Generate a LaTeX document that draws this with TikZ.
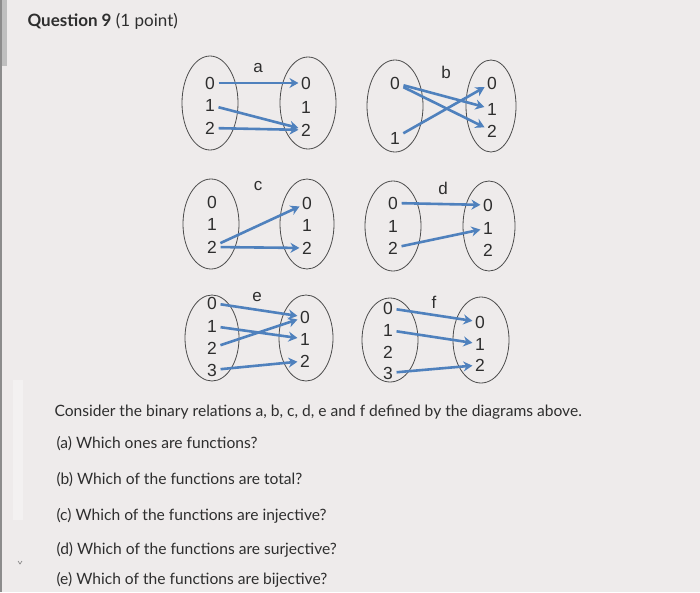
\documentclass[tikz,border=0pt]{standalone}
\usepackage{fontspec}
\setmainfont{Lato}
\newfontfamily\diagfont{Liberation Sans}
\usetikzlibrary{arrows.meta}
\definecolor{arrowblue}{HTML}{4F81BD}
\definecolor{paper}{HTML}{EEEBEB}
\definecolor{ink}{HTML}{2E2E2E}
\tikzset{
  digit/.style={font=\diagfont\fontsize{17.5}{17.5}\selectfont, text=ink, inner sep=1.5pt},
  setline/.style={draw=black!70, line width=0.8pt},
  maps/.style={draw=arrowblue, line width=2.6pt, -{Stealth[length=9pt,width=10pt]}, shorten >=1pt, shorten <=2pt},
  relname/.style={font=\diagfont\fontsize{17}{17}\selectfont, text=ink},
  body/.style={anchor=west, font=\fontsize{15.6}{18}\selectfont, text=ink}
}
\begin{document}
\begin{tikzpicture}[x=1pt,y=-1pt]
\fill[paper] (0,0) rectangle (700,592);
\clip (0,0) rectangle (700,592);
% left edge of the screen
\fill[black!45] (0,0) rectangle (2,592);
\fill[black!25] (2,0) rectangle (7,66);
\fill[white!30!paper] (13,380) rectangle (23,520);
\draw[black!50, line width=0.6pt] (18,561) -- (20,564) -- (22,561);

\node[anchor=west, font=\fontsize{17}{20}\selectfont, text=ink] (title) at (24,21) {\textbf{Question 9} (1 point)};

% a
\draw[setline] (210,103) ellipse (28 and 47);
\draw[setline] (308,103) ellipse (28 and 46);
\foreach \y [count=\i from 0] in {83,105,128} \node[digit] (aL\i) at (210,\y) {\i};
\foreach \y [count=\i from 0] in {83,107,130} \node[digit] (aR\i) at (306,\y) {\i};
\node[relname] (a) at (258,68) {a};
\draw[maps] (aL0) -- (aR0);
\draw[maps] (aL1) -- (aR2);
\draw[maps] (aL2) -- (aR2);

% b
\draw[setline] (395,106) ellipse (28 and 46);
\draw[setline] (491,106) ellipse (25 and 46);
\node[digit] (bL0) at (395,83) {0};
\node[digit] (bL1) at (395,138) {1};
\foreach \y [count=\i from 0] in {83,109,131} \node[digit] (bR\i) at (492,\y) {\i};
\node[relname] (b) at (446,72) {b};
\draw[maps] (bL0) -- (bR1);
\draw[maps] (bL0) -- (bR2);
\draw[maps] (bL1) -- (bR0);

% c
\draw[setline] (211,224) ellipse (28 and 45);
\draw[setline] (307,224) ellipse (27 and 45);
\foreach \y [count=\i from 0] in {202,224,247} \node[digit] (cL\i) at (212,\y) {\i};
\foreach \y [count=\i from 0] in {203,225,248} \node[digit] (cR\i) at (307,\y) {\i};
\node[relname] (c) at (258,186) {c};
\draw[maps] (cL2) -- (cR0);
\draw[maps] (cL2) -- (cR2);

% d
\draw[setline] (393,226) ellipse (28 and 45);
\draw[setline] (489,226) ellipse (26 and 45);
\foreach \y [count=\i from 0] in {203,226,248} \node[digit] (dL\i) at (393,\y) {\i};
\foreach \y [count=\i from 0] in {205,228,250} \node[digit] (dR\i) at (488,\y) {\i};
\node[relname] (d) at (443,188) {d};
\draw[maps] (dL0) -- (dR0);
\draw[maps] (dL2) -- (dR1);

% e
\draw[setline] (212,338) ellipse (27 and 43);
\draw[setline] (306,338) ellipse (27 and 43);
\foreach \y [count=\i from 0] in {303,326,348,370} \node[digit] (eL\i) at (212,\y) {\i};
\foreach \y [count=\i from 0] in {317,339,361} \node[digit] (eR\i) at (305,\y) {\i};
\node[relname] (e) at (257,297) {e};
\draw[maps] (eL0) -- (eR0);
\draw[maps] (eL1) -- (eR1);
\draw[maps] (eL2) -- (eR0);
\draw[maps] (eL3) -- (eR2);

% f
\draw[setline] (390,340) ellipse (28 and 42);
\draw[setline] (481,340) ellipse (28 and 43);
\foreach \y [count=\i from 0] in {308,330,352,373} \node[digit] (fL\i) at (388,\y) {\i};
\foreach \y [count=\i from 0] in {322,344,365} \node[digit] (fR\i) at (480,\y) {\i};
\node[relname] (f) at (434,302) {f};
\draw[maps] (fL0) -- (fR0);
\draw[maps] (fL1) -- (fR1);
\draw[maps] (fL3) -- (fR2);

% questions
\node[body] (intro) at (51,412) {Consider the binary relations a, b, c, d, e and f defined by the diagrams above.};
\node[body] (qa) at (53,444) {(a) Which ones are functions?};
\node[body] (qb) at (53,480) {(b) Which of the functions are total?};
\node[body] (qc) at (53,516) {(c) Which of the functions are injective?};
\node[body] (qd) at (53,550) {(d) Which of the functions are surjective?};
\node[body] (qe) at (53,580) {(e) Which of the functions are bijective?};
\end{tikzpicture}
\end{document}
